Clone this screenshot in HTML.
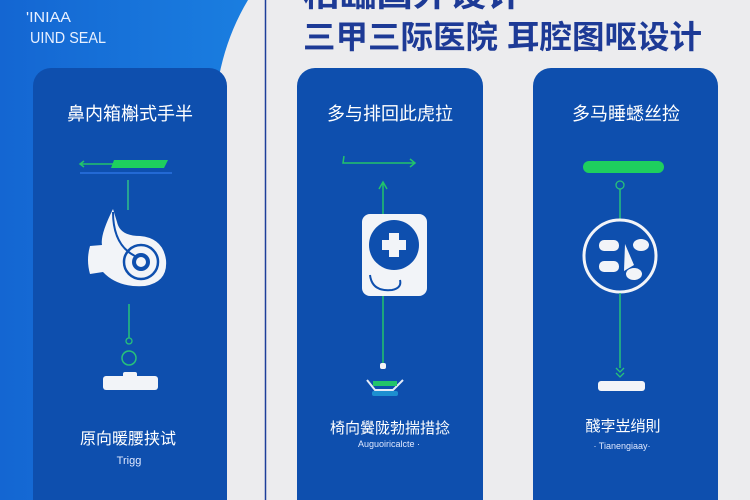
<!DOCTYPE html>
<html><head><meta charset="utf-8"><style>
html,body{margin:0;padding:0;width:750px;height:500px;overflow:hidden;background:#ececee}
svg{display:block}
text{font-family:"Liberation Sans","Noto Sans CJK SC",sans-serif}
</style></head><body>
<svg width="750" height="500" viewBox="0 0 750 500" xmlns="http://www.w3.org/2000/svg">
<defs>
<linearGradient id="lb" x1="0" y1="0" x2="1" y2="0"><stop offset="0" stop-color="#1466d2"/><stop offset="1" stop-color="#1a7ee0"/></linearGradient>
</defs>
<rect width="750" height="500" fill="#ececee"/>
<path d="M0,0 H248 Q212,60 214,140 L214,500 H0 Z" fill="url(#lb)"/>
<line x1="265.5" y1="0" x2="265.5" y2="500" stroke="#1d3f9a" stroke-width="1.5"/>
<text x="26" y="22" fill="#e8f0ff" font-size="15" textLength="45" lengthAdjust="spacingAndGlyphs">'INIAA</text>
<text x="30" y="43" fill="#e8f0ff" font-size="16" textLength="76" lengthAdjust="spacingAndGlyphs">UIND SEAL</text>
<text x="303" y="6" fill="#1d3a96" font-size="32" font-weight="bold" textLength="220" lengthAdjust="spacingAndGlyphs">柏臨国外设计</text>
<text x="303" y="48" fill="#1d3a96" font-size="32" font-weight="bold" textLength="399" lengthAdjust="spacingAndGlyphs">三甲三际医院 耳腔图呕设计</text>
<!-- cards -->
<rect x="33" y="68" width="194" height="450" rx="18" fill="#0e4fae"/>
<rect x="297" y="68" width="186" height="450" rx="18" fill="#0e4fae"/>
<rect x="533" y="68" width="185" height="450" rx="18" fill="#0e4fae"/>
<g fill="#fff" font-size="18" text-anchor="middle">
<text x="130" y="120">鼻内箱槲式手半</text>
<text x="390" y="120">多与排回此虎拉</text>
<text x="626" y="120">多马睡蟋丝捡</text>
</g>
<!-- card1 -->
<path d="M84,161 L80,164 L84,167 M80,164 H114" stroke="#22c46a" stroke-width="1.5" fill="none"/>
<path d="M114,160 H168 L164,168 H111 Z" fill="#1ecf5e"/>
<line x1="80" y1="173" x2="172" y2="173" stroke="#2a72e0" stroke-width="1.5"/>
<line x1="128" y1="180" x2="128" y2="210" stroke="#2fbf8a" stroke-width="1.5"/>
<path d="M113,209 Q100,235 102,245 L90,246 Q86,260 90,274 L103,272 Q118,288 145,286 Q168,282 166,260 Q163,238 140,236 Q120,236 117,222 Z" fill="#f2f4f8"/>
<circle cx="141" cy="262" r="17" fill="none" stroke="#0e4fae" stroke-width="2.5"/>
<circle cx="141" cy="262" r="9" fill="#0e4fae"/>
<circle cx="141" cy="262" r="5" fill="#f2f4f8"/>
<path d="M113,212 Q113,245 135,256" stroke="#0e4fae" stroke-width="2" fill="none"/>
<line x1="129" y1="304" x2="129" y2="338" stroke="#27c27a" stroke-width="1.5"/>
<circle cx="129" cy="341" r="3" fill="none" stroke="#27c27a" stroke-width="1.3"/>
<circle cx="129" cy="358" r="7" fill="none" stroke="#27c27a" stroke-width="1.5"/>
<rect x="103" y="376" width="55" height="14" rx="3" fill="#f2f4f8"/>
<rect x="123" y="372" width="14" height="6" rx="2" fill="#f2f4f8"/>
<text x="128" y="444" fill="#fff" font-size="16" text-anchor="middle">原向暖腰挟试</text>
<text x="129" y="464" fill="#dfe8ff" font-size="11" text-anchor="middle">Trigg</text>
<!-- card2 -->
<path d="M344,156 L343,163 H415 M410,159 L415,163 L410,167" stroke="#22c46a" stroke-width="1.5" fill="none"/>
<path d="M383,215 V183 M379,189 L383,182 L387,189" stroke="#22c46a" stroke-width="1.5" fill="none"/>
<rect x="362" y="214" width="65" height="82" rx="8" fill="#f2f4f8"/>
<circle cx="394" cy="245" r="25" fill="#0e4fae"/>
<rect x="389" y="233" width="10" height="24" fill="#f2f4f8"/>
<rect x="382" y="240" width="24" height="10" fill="#f2f4f8"/>
<path d="M370,275 Q372,292 392,290 Q402,288 400,280" stroke="#0e4fae" stroke-width="2" fill="none"/>
<line x1="383" y1="296" x2="383" y2="365" stroke="#22c46a" stroke-width="1.5"/>
<rect x="380" y="363" width="6" height="6" rx="2" fill="#f2f4f8"/>
<path d="M367,380 L375,390 H393 L403,380" stroke="#e6ecf8" stroke-width="2" fill="none"/>
<rect x="373" y="381" width="24" height="5" fill="#22c46a"/>
<rect x="372" y="391" width="26" height="5" rx="2" fill="#1d8fd0"/>
<text x="390" y="433" fill="#fff" font-size="15" text-anchor="middle">椅向黌陇勃揣措捻</text>
<text x="389" y="447" fill="#dfe8ff" font-size="9" text-anchor="middle">Auguoiricalcte ·</text>
<!-- card3 -->
<rect x="583" y="161" width="81" height="12" rx="6" fill="#1ecf5e"/>
<circle cx="620" cy="185" r="4" fill="none" stroke="#27c27a" stroke-width="1.3"/>
<line x1="620" y1="189" x2="620" y2="220" stroke="#27c27a" stroke-width="1.5"/>
<circle cx="620" cy="256" r="36" fill="none" stroke="#f2f4f8" stroke-width="3"/>
<rect x="599" y="240" width="20" height="11" rx="5" fill="#f2f4f8"/>
<rect x="599" y="261" width="20" height="11" rx="5" fill="#f2f4f8"/>
<ellipse cx="641" cy="245" rx="8" ry="6" fill="#f2f4f8"/>
<path d="M625,244 L634,265 L624,271 Z" fill="#f2f4f8"/>
<ellipse cx="634" cy="274" rx="8" ry="6" fill="#f2f4f8"/>
<line x1="620" y1="293" x2="620" y2="368" stroke="#27c27a" stroke-width="1.5"/>
<path d="M616,368 L620,372 L624,368 M616,373 L620,377 L624,373" stroke="#27c27a" stroke-width="1.3" fill="none"/>
<rect x="598" y="381" width="47" height="10" rx="3" fill="#f2f4f8"/>
<text x="623" y="431" fill="#fff" font-size="15" text-anchor="middle">醆孛岦绡則</text>
<text x="622" y="449" fill="#dfe8ff" font-size="9" text-anchor="middle">· Tianengiaay·</text>
</svg>
</body></html>
